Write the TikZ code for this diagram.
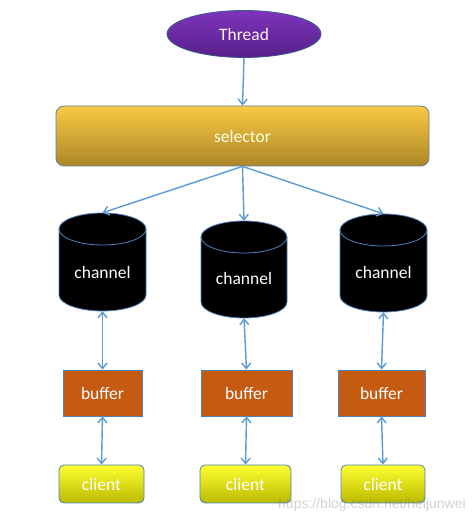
\documentclass[tikz,border=0pt]{standalone}
\usepackage{fontspec}
\setmainfont{Carlito}
\newfontfamily\wmfont{Liberation Sans}
\usetikzlibrary{arrows.meta,shapes.geometric}
\definecolor{arrowblue}{HTML}{5B9BD5}
\definecolor{edgeblue}{HTML}{4F81BD}
\definecolor{purpletop}{HTML}{7E34BC}
\definecolor{purplebot}{HTML}{57208A}
\definecolor{goldtop}{HTML}{F9CA44}
\definecolor{goldbot}{HTML}{AC8626}
\definecolor{bufferfill}{HTML}{C55A11}
\definecolor{clienttop}{HTML}{FFFF33}
\definecolor{clientbot}{HTML}{BABA00}
\newcommand{\drawcyl}[4]{%
  \path[fill=black,draw=edgeblue,line width=0.8pt]
    ({#1-#4},{#2-16}) -- ({#1-#4},{#3+16})
    arc[start angle=180,end angle=360,x radius=#4pt,y radius=16pt]
    -- ({#1+#4},{#2-16})
    arc[start angle=0,end angle=180,x radius=#4pt,y radius=16pt] -- cycle;
  \draw[edgeblue,line width=0.8pt] ({#1-#4},{#2-16})
    arc[start angle=180,end angle=360,x radius=#4pt,y radius=16pt];}
\tikzset{
  lbl/.style={font=\fontsize{17.5}{20}\selectfont,inner sep=0pt},
  conn/.style={arrowblue,line width=1.4pt,-{Straight Barb[length=5.5pt,width=9pt]}},
  dconn/.style={arrowblue,line width=1.4pt,{Straight Barb[length=5.5pt,width=9pt]}-{Straight Barb[length=5.5pt,width=9pt]}},
  threadnode/.style={ellipse,minimum width=154pt,minimum height=47pt,inner sep=0pt,
    top color=purpletop,bottom color=purplebot,draw=edgeblue!70!black,line width=0.8pt,
    text=pink!20!white,lbl},
  selnode/.style={rectangle,rounded corners=8pt,minimum width=373pt,minimum height=60pt,
    top color=goldtop,bottom color=goldbot,draw=edgeblue!60!gray,line width=0.8pt,
    text=yellow!10!white,lbl},
  chanbox/.style={rectangle,draw=none,inner sep=0pt},
  bufnode/.style={rectangle,minimum height=46pt,fill=bufferfill,draw=edgeblue,
    line width=0.8pt,text=white,lbl},
  clinode/.style={rectangle,rounded corners=5pt,minimum height=38pt,
    top color=clienttop,bottom color=clientbot,draw=edgeblue,line width=0.8pt,
    text=white,lbl},
}
\begin{document}
\begin{tikzpicture}[x=1pt,y=1pt]
\useasboundingbox[fill=white] (0,0) rectangle (474,522);
% Thread and selector
\node[threadnode] (th) at (244,488) {Thread};
\node[selnode] (sel) at (242.5,386) {selector};
% channels
\drawcyl{102.5}{309}{211}{43.5}
\drawcyl{244}{301}{204}{43}
\drawcyl{383.5}{308}{210}{43.5}
\node[chanbox,minimum width=87pt,minimum height=98pt] (ch1) at (102.5,260) {};
\node[chanbox,minimum width=86pt,minimum height=97pt] (ch2) at (244,252.5) {};
\node[chanbox,minimum width=87pt,minimum height=98pt] (ch3) at (383.5,259) {};
\node[lbl,text=white] (ct1) at (102.5,250) {channel};
\node[lbl,text=white] (ct2) at (244,244) {channel};
\node[lbl,text=white] (ct3) at (383.5,250) {channel};
% buffers
\node[bufnode,minimum width=79pt] (b1) at (102.5,129) {buffer};
\node[bufnode,minimum width=91pt] (b2) at (246.5,129) {buffer};
\node[bufnode,minimum width=87pt] (b3) at (381.5,129) {buffer};
% clients
\node[clinode,minimum width=85pt] (cl1) at (101.5,38) {client};
\node[clinode,minimum width=91pt] (cl2) at (245.5,38) {client};
\node[clinode,minimum width=84pt] (cl3) at (383,38) {client};
% connectors
\draw[conn] (th.south) -- (sel.north);
\draw[conn] (sel.south) -- (ch1.north);
\draw[conn] (sel.south) -- (ch2.north);
\draw[conn] (sel.south) -- (ch3.north);
\draw[dconn] (ch1.south) -- (b1.north);
\draw[dconn] (ch2.south) -- (b2.north);
\draw[dconn] (ch3.south) -- (b3.north);
\draw[dconn] (b1.south) -- (cl1.north);
\draw[dconn] (b2.south) -- (cl2.north);
\draw[dconn] (b3.south) -- (cl3.north);
% watermark
\node[font=\wmfont\fontsize{14}{16}\selectfont,text=gray,opacity=0.35,anchor=west,inner sep=0pt] (wm) at (278,17) {https://blog.csdn.net/heijunwei};
\end{tikzpicture}
\end{document}
